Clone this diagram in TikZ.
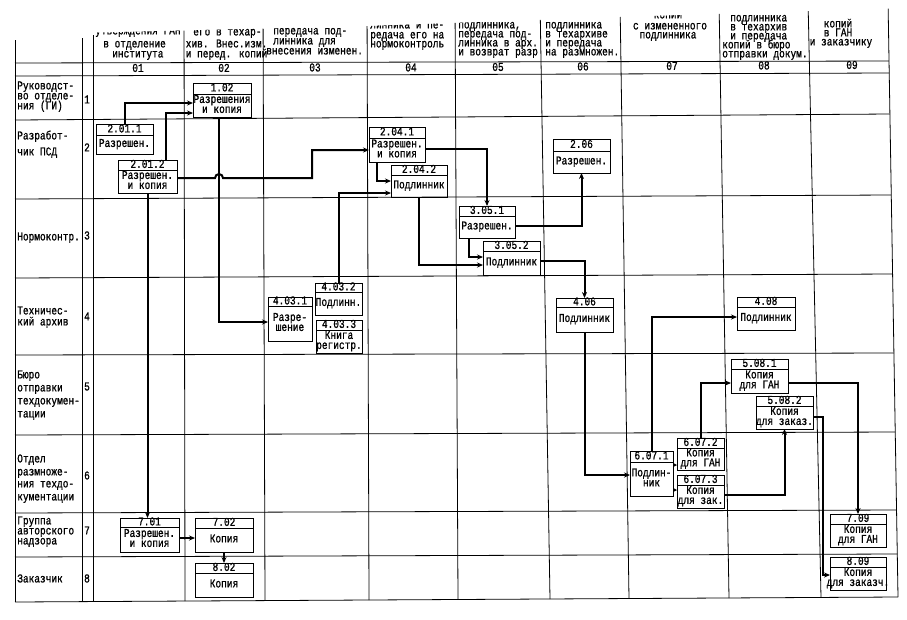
\documentclass[tikz,border=0pt]{standalone}
\usepackage{fontspec}
\setmainfont{Liberation Mono}[FakeStretch=0.79,FakeBold=1]
\usetikzlibrary{arrows.meta,fit}
\newcommand\flowbox[9]{%
  \node[fit={(#2,#3) (#4,#5)},inner sep=0pt,outer sep=0pt,draw,boxline] (#1) {};
  \draw[boxline] (#2,#6) -- (#4,#6);
  \node[btxt] at ({(#2+#4)/2},{(#3+#6)/2+0.5}) {#7};
  \if\relax\detokenize{#9}\relax
    \node[btxt] at ({(#2+#4)/2},{(#6+#5)/2}) {#8};
  \else
    \node[btxt] at ({(#2+#4)/2},{(#6+#5)/2-5}) {#8};
    \node[btxt] at ({(#2+#4)/2},{(#6+#5)/2+5}) {#9};
  \fi}
\begin{document}
\begin{tikzpicture}[x=0.75pt,y=-0.75pt,
  gridline/.style={line width=0.6pt},
  boxline/.style={line width=0.7pt},
  conn/.style={line width=1.5pt,-{Stealth[length=4.5pt,width=3.8pt]}},
  shortconn/.style={line width=1.2pt,-{Stealth[length=2.6pt,width=2.6pt]}},
  txt/.style={inner sep=0pt,font=\fontsize{9}{9}\selectfont,text height=4.6pt,text depth=1.0pt},
  hdr/.style={txt,anchor=west},
  hdrc/.style={txt},
  rowlbl/.style={txt,anchor=west},
  rownum/.style={txt},
  btxt/.style={txt}]
\useasboundingbox (0,0) rectangle (907,619);
\fill[white] (0,0) rectangle (907,619);
\clip (0,35) -- (370,26) -- (620,17) -- (907,8) -- (907,619) -- (0,619) -- cycle;

% ---------- grid: vertical lines ----------
\foreach \xt/\yt/\xb/\yb in {15/40/15/602, 82/38/82/601.6, 93/35/93/601.5,
  184/0/185/601, 263/0/265/600.6, 367/0/369/600, 455/0/458/599.5,
  540/0/550/599, 620/0/629/598.5, 719/0/729/598, 808/0/821/597.4, 888/0/898/597}
  \draw[gridline] (\xt,\yt) -- (\xb,\yb);
% ---------- grid: horizontal lines ----------
\foreach \yl/\yr/\xr in {63/61/888.8, 76/73/889, 120/114/889.8, 199/195/891,
  278/274/892.5, 355/353/893.8, 435/432/895, 513/510/896.5, 557/554/897.3, 602/597/898}
  \draw[gridline] (15,\yl) -- (\xr,\yr);

% ---------- column headers ----------
\node[hdr] at (95,32) {утверждения ГАН};
\node[hdr] at (103,45) {в отделение};
\node[hdr] at (112,55) {института};
\node[hdr] at (193,33) {его в техар-};
\node[hdr] at (185.5,45) {хив. Внес.изм.};
\node[hdr] at (185.5,55) {и перед. копий};
\node[hdr] at (273,32) {передача под-};
\node[hdr] at (273,42) {линника для};
\node[hdr] at (266,52) {внесения изменен.};
\node[hdr] at (370,26) {линника и пе-};
\node[hdr] at (370,36) {редача его на};
\node[hdr] at (370,45) {нормоконтроль};
\node[hdr] at (458,26) {подлинника,};
\node[hdr] at (458,35) {передача под-};
\node[hdr] at (458,44) {линника в арх.};
\node[hdr] at (458,53) {и возврат разр};
\node[hdr] at (545,26) {подлинника};
\node[hdr] at (545,35) {в техархиве};
\node[hdr] at (545,44) {и передача};
\node[hdr] at (545,53) {на размножен.};
\node[hdrc] at (668,16) {копии};
\node[hdrc] at (670,27) {с измененного};
\node[hdrc] at (668,36) {подлинника};
\node[hdr] at (730,19) {подлинника};
\node[hdr] at (730,28) {в техархив};
\node[hdr] at (730,37) {и передача};
\node[hdr] at (722,46) {копий в бюро};
\node[hdr] at (722,55) {отправки докум.};
\node[hdrc] at (838,25) {копий};
\node[hdrc] at (838,34) {в ГАН};
\node[hdrc] at (841,43) {и заказчику};
% column numbers
\foreach \lab/\cx/\cy in {01/138/69.5, 02/224/69.5, 03/315/69, 04/411/69, 05/498/68.5,
  06/583/68, 07/672/67.5, 08/764/67, 09/852/66.5}
  \node[hdrc] at (\cx,\cy) {\lab};

% ---------- row labels ----------
\node[rowlbl] at (17,87) {Руководст-};
\node[rowlbl] at (17,97) {во отделе-};
\node[rowlbl] at (17,107) {ния (ГИ)};
\node[rownum] at (87,101) {1};
\node[rowlbl] at (17,137) {Разработ-};
\node[rowlbl] at (17,153) {чик ПСД};
\node[rownum] at (87,149) {2};
\node[rowlbl] at (17,238) {Нормоконтр.};
\node[rownum] at (87,237) {3};
\node[rowlbl] at (17,312) {Техничес-};
\node[rowlbl] at (17,323) {кий архив};
\node[rownum] at (87,318) {4};
\node[rowlbl] at (17,376) {Бюро};
\node[rowlbl] at (17,389) {отправки};
\node[rowlbl] at (17,402) {техдокумен-};
\node[rowlbl] at (17,415) {тации};
\node[rownum] at (87,388) {5};
\node[rowlbl] at (17,460) {Отдел};
\node[rowlbl] at (17,473) {размноже-};
\node[rowlbl] at (17,485) {ния техдо-};
\node[rowlbl] at (17,498) {кументации};
\node[rownum] at (87,477) {6};
\node[rowlbl] at (17,522) {Группа};
\node[rowlbl] at (17,532) {авторского};
\node[rowlbl] at (17,542) {надзора};
\node[rownum] at (87,532) {7};
\node[rowlbl] at (17,580) {Заказчик};
\node[rownum] at (87,580) {8};

% ---------- boxes ----------
\flowbox{b102}{193}{83}{251}{117}{94}{1.02}{Разрешения}{и копия}
\flowbox{b2011}{96}{124}{153}{154}{135}{2.01.1}{Разрешен.}{}
\flowbox{b2012}{118}{160}{177}{193}{170}{2.01.2}{Разрешен.}{и копия}
\flowbox{b2041}{369}{127}{425}{162}{138}{2.04.1}{Разрешен.}{и копия}
\flowbox{b2042}{391}{165}{447}{197}{175}{2.04.2}{Подлинник}{}
\flowbox{b206}{553}{139}{610}{173}{151}{2.06}{Разрешен.}{}
\flowbox{b3051}{459}{206}{515}{238}{216}{3.05.1}{Разрешен.}{}
\flowbox{b3052}{483}{241}{540}{275}{251}{3.05.2}{Подлинник}{}
\flowbox{b4031}{268}{297}{312}{341}{306}{4.03.1}{Разре-}{шение}
\flowbox{b4032}{315}{283}{362}{315}{292}{4.03.2}{Подлинн.}{}
\flowbox{b4033}{316}{320}{362}{353}{330}{4.03.3}{Книга}{регистр.}
\flowbox{b406}{556}{298}{613}{332}{307}{4.06}{Подлинник}{}
\flowbox{b408}{737}{297}{795}{330}{307}{4.08}{Подлинник}{}
\flowbox{b5081}{731}{359}{788}{393}{369}{5.08.1}{Копия}{для ГАН}
\flowbox{b5082}{756}{396}{813}{429}{406}{5.08.2}{Копия}{для заказ.}
\flowbox{b6071}{630}{451}{673}{496}{462}{6.07.1}{Подлин-}{ник}
\flowbox{b6072}{677}{438}{724}{470}{448}{6.07.2}{Копия}{для ГАН}
\flowbox{b6073}{677}{475}{724}{508}{485}{6.07.3}{Копия}{для зак.}
\flowbox{b701}{120}{518}{179}{552}{527}{7.01}{Разрешен.}{и копия}
\flowbox{b702}{195}{518}{253}{552}{528}{7.02}{Копия}{}
\flowbox{b802}{195}{563}{253}{597}{573}{8.02}{Копия}{}
\flowbox{b709}{830}{514}{886}{547}{524}{7.09}{Копия}{для ГАН}
\flowbox{b809}{830}{557}{886}{590}{567}{8.09}{Копия}{для заказч.}

% ---------- connectors ----------
\draw[conn] (b2011.north) |- ([shift={(0,3)}]b102.west);
\draw[conn] ([shift={(18.5,0)}]b2012.north) |- ([shift={(0,13)}]b102.west);
\draw[conn] ([shift={(-3,0)}]b102.south) |- ([shift={(0,3)}]b4031.west);
\draw[conn] ([shift={(0,1.5)}]b2012.east) -- ++(38,0)
  arc[start angle=180,end angle=0,radius=3pt] -- ++(89,0)
  |- ([shift={(0,5.5)}]b2041.west);
\draw[conn] (b2012.south) -- (b2012.south |- b701.north);
\draw[conn] ([shift={(8,0)}]b2041.south west) |- (b2042.west);
\draw[conn] (b4032.north) |- ([shift={(0,12)}]b2042.west);
\draw[conn] ([shift={(0,4.5)}]b2041.east) -| (b3051.north);
\draw[conn] (b2042.south) |- ([shift={(0,7)}]b3052.west);
\draw[conn] ([shift={(10,0)}]b3051.south west) |- ([shift={(0,-1)}]b3052.west);
\draw[conn] ([shift={(0,4)}]b3051.east) -| (b206.south);
\draw[conn] ([shift={(0,3)}]b3052.east) -| (b406.north);
\draw[conn] (b406.south) |- ([shift={(0,1.5)}]b6071.west);
\draw[conn] (b6071.north) |- ([shift={(0,3.5)}]b408.west);
\draw[shortconn] ([shift={(0,-8.5)}]b6071.east) -- ([shift={(0,11)}]b6072.west);
\draw[shortconn] ([shift={(0,16.5)}]b6071.east) -- ([shift={(0,-1.5)}]b6073.west);
\draw[conn] (b6072.north) |- ([shift={(0,7)}]b5081.west);
\draw[conn] ([shift={(0,7)}]b5081.east) -| (b709.north);
\draw[conn] ([shift={(0,4.5)}]b5082.east) -- ++(10,0) |- ([shift={(0,1.5)}]b809.west);
\draw[conn] ([shift={(0,3.5)}]b6073.east) -| (b5082.south);
\draw[conn] ([shift={(0,3)}]b701.east) -- ([shift={(0,3)}]b702.west);
\draw[conn] (b702.south) -- (b802.north);
\end{tikzpicture}
\end{document}
